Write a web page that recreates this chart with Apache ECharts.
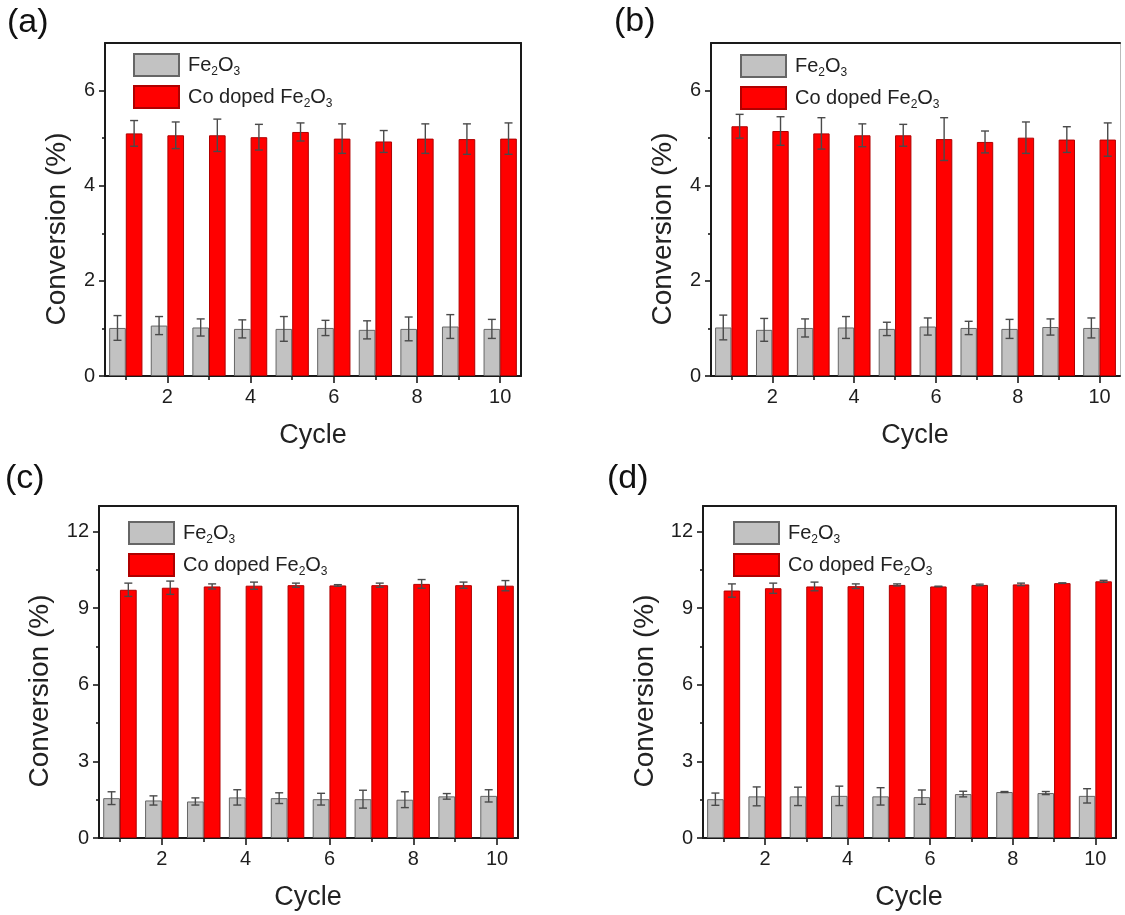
<!DOCTYPE html>
<html>
<head>
<meta charset="utf-8">
<script src="https://cdn.jsdelivr.net/npm/echarts@6/dist/echarts.min.js"></script>
<style>
html,body{margin:0;padding:0;background:#fff;}
#main{width:1125px;height:915px;}
</style>
</head>
<body>
<div id="main"></div>
<script>
// ---- data ----
const cycles = ['1','2','3','4','5','6','7','8','9','10'];
const seriesNames = ['Fe2O3', 'Co doped Fe2O3'];
const panelLabels = ['(a)', '(b)', '(c)', '(d)'];

// panel (a)
const feA    = [1.01, 1.06, 1.02, 0.99, 0.99, 1.01, 0.97, 0.99, 1.04, 0.99];
const feAErr = [0.26, 0.19, 0.18, 0.19, 0.26, 0.16, 0.19, 0.25, 0.25, 0.20];
const coA    = [5.10, 5.06, 5.06, 5.02, 5.13, 4.99, 4.93, 4.99, 4.98, 4.99];
const coAErr = [0.27, 0.28, 0.34, 0.27, 0.19, 0.31, 0.23, 0.31, 0.32, 0.33];
// panel (b)
const feB    = [1.02, 0.97, 1.01, 1.02, 0.99, 1.04, 1.01, 0.99, 1.03, 1.01];
const feBErr = [0.26, 0.24, 0.19, 0.23, 0.14, 0.18, 0.14, 0.20, 0.17, 0.21];
const coB    = [5.25, 5.15, 5.10, 5.06, 5.06, 4.98, 4.92, 5.01, 4.97, 4.97];
const coBErr = [0.25, 0.30, 0.33, 0.24, 0.23, 0.45, 0.23, 0.33, 0.27, 0.35];
// panel (c)
const feC    = [1.56, 1.47, 1.43, 1.59, 1.56, 1.52, 1.52, 1.50, 1.63, 1.65];
const feCErr = [0.25, 0.18, 0.14, 0.30, 0.21, 0.23, 0.35, 0.31, 0.11, 0.24];
const coC    = [9.72, 9.80, 9.85, 9.88, 9.90, 9.89, 9.90, 9.95, 9.90, 9.88];
const coCErr = [0.26, 0.26, 0.10, 0.14, 0.08, 0.03, 0.08, 0.17, 0.12, 0.20];
// panel (d)
const feD    = [1.52, 1.63, 1.63, 1.65, 1.63, 1.60, 1.72, 1.80, 1.76, 1.65];
const feDErr = [0.24, 0.37, 0.36, 0.38, 0.34, 0.28, 0.11, 0.02, 0.06, 0.28];
const coD    = [9.69, 9.78, 9.85, 9.86, 9.91, 9.85, 9.91, 9.93, 9.98, 10.05];
const coDErr = [0.26, 0.20, 0.17, 0.09, 0.04, 0.01, 0.03, 0.05, 0.01, 0.04];

// y-axis ticks
const yMaxAB = 7,  yMajorAB = [0, 2, 4, 6],        yMinorAB = [1, 3, 5];
const yMaxCD = 13, yMajorCD = [0, 3, 6, 9, 12],    yMinorCD = [1.5, 4.5, 7.5, 10.5];

// ---- layout / style ----
const FONT = "'Liberation Sans', Arial, sans-serif";
const AX = '#1a1a1a';
const panels = [
  {fe: feA, feE: feAErr, co: coA, coE: coAErr, max: yMaxAB, maj: yMajorAB, min: yMinorAB,
   grid: {left: 105, right: 1125 - 521, top: 43, bottom: 915 - 376}, legend: {left: 128, top: 47},
   rightColor: AX, label: [7, 6], ytitle: [57, 229], xtitle: [313, 436]},
  {fe: feB, feE: feBErr, co: coB, coE: coBErr, max: yMaxAB, maj: yMajorAB, min: yMinorAB,
   grid: {left: 711, right: 1125 - 1120, top: 43, bottom: 915 - 376}, legend: {left: 735, top: 48},
   rightColor: '#bbbbbb', label: [614, 5], ytitle: [663, 229], xtitle: [915, 436]},
  {fe: feC, feE: feCErr, co: coC, coE: coCErr, max: yMaxCD, maj: yMajorCD, min: yMinorCD,
   grid: {left: 99, right: 1125 - 518, top: 506, bottom: 915 - 838}, legend: {left: 123, top: 515},
   rightColor: AX, label: [5, 462], ytitle: [40, 691], xtitle: [308, 898]},
  {fe: feD, feE: feDErr, co: coD, coE: coDErr, max: yMaxCD, maj: yMajorCD, min: yMinorCD,
   grid: {left: 703, right: 1125 - 1116, top: 506, bottom: 915 - 838}, legend: {left: 728, top: 515},
   rightColor: AX, label: [607, 462], ytitle: [645, 691], xtitle: [909, 898]}
];

const grids = [], xAxes = [], yAxes = [], series = [], legends = [], graphics = [];

function errRender(side) {
  return function (params, api) {
    const x = api.value(0), y = api.value(1), e = api.value(2);
    const band = api.size([1, 0])[0];
    const top = api.coord([x, y + e]);
    const bot = api.coord([x, y - e]);
    const cx = top[0] + side * band * 0.2;
    const cap = 4;
    const st = {stroke: '#4a4a4a', lineWidth: 1.4};
    return {type: 'group', children: [
      {type: 'line', shape: {x1: cx, y1: top[1], x2: cx, y2: bot[1]}, style: st},
      {type: 'line', shape: {x1: cx - cap, y1: top[1], x2: cx + cap, y2: top[1]}, style: st},
      {type: 'line', shape: {x1: cx - cap, y1: bot[1], x2: cx + cap, y2: bot[1]}, style: st}
    ]};
  };
}

panels.forEach((p, i) => {
  grids.push(Object.assign({containLabel: false}, p.grid));
  const xi = xAxes.length, yi = yAxes.length;
  // main x axis
  xAxes.push({gridIndex: i, type: 'category', data: cycles, position: 'bottom',
    axisLine: {show: true, onZero: false, lineStyle: {color: AX, width: 2}},
    axisTick: {show: true, alignWithLabel: true, interval: (k) => k % 2 === 1, length: 7, lineStyle: {color: AX, width: 1.6}},
    axisLabel: {interval: (k) => k % 2 === 1, fontSize: 20, color: '#1e1e1e', margin: 11, fontFamily: FONT},
    splitLine: {show: false}});
  // minor ticks x
  xAxes.push({gridIndex: i, type: 'category', data: cycles, position: 'bottom',
    axisLine: {show: false},
    axisTick: {show: true, alignWithLabel: true, interval: (k) => k % 2 === 0, length: 4, lineStyle: {color: AX, width: 1.6}},
    axisLabel: {show: false}, splitLine: {show: false}});
  // top frame
  xAxes.push({gridIndex: i, type: 'category', data: cycles, position: 'top',
    axisLine: {show: true, onZero: false, lineStyle: {color: AX, width: 2}},
    axisTick: {show: false}, axisLabel: {show: false}, splitLine: {show: false}});
  // main y
  yAxes.push({gridIndex: i, type: 'value', min: 0, max: p.max, position: 'left',
    axisLine: {show: true, onZero: false, lineStyle: {color: AX, width: 2}},
    axisTick: {show: true, customValues: p.maj, length: 6, lineStyle: {color: AX, width: 1.6}},
    axisLabel: {customValues: p.maj, fontSize: 20, color: '#1e1e1e', margin: 10, fontFamily: FONT},
    splitLine: {show: false}});
  // minor y
  yAxes.push({gridIndex: i, type: 'value', min: 0, max: p.max, position: 'left',
    axisLine: {show: false},
    axisTick: {show: true, customValues: p.min, length: 3, lineStyle: {color: AX, width: 1.6}},
    axisLabel: {show: false}, splitLine: {show: false}});
  // right frame
  yAxes.push({gridIndex: i, type: 'value', min: 0, max: p.max, position: 'right',
    axisLine: {show: true, onZero: false, lineStyle: {color: p.rightColor, width: p.rightColor === AX ? 2 : 1}},
    axisTick: {show: false}, axisLabel: {show: false}, splitLine: {show: false}});

  series.push({name: seriesNames[0], type: 'bar', xAxisIndex: xi, yAxisIndex: yi,
    data: p.fe, barWidth: '40%', barGap: '0%',
    itemStyle: {color: '#c2c2c2', borderColor: '#666', borderWidth: 1}, z: 2});
  series.push({name: seriesNames[1], type: 'bar', xAxisIndex: xi, yAxisIndex: yi,
    data: p.co, barWidth: '40%', barGap: '0%',
    itemStyle: {color: '#ff0000', borderColor: '#b00000', borderWidth: 1}, z: 2});
  series.push({type: 'custom', xAxisIndex: xi, yAxisIndex: yi, z: 5, silent: true,
    renderItem: errRender(-1), encode: {x: 0, y: 1},
    data: p.fe.map((v, k) => [k, v, p.feE[k]])});
  series.push({type: 'custom', xAxisIndex: xi, yAxisIndex: yi, z: 5, silent: true,
    renderItem: errRender(1), encode: {x: 0, y: 1},
    data: p.co.map((v, k) => [k, v, p.coE[k]])});

  legends.push({data: seriesNames, orient: 'vertical', left: p.legend.left, top: p.legend.top,
    icon: 'rect', itemWidth: 45, itemHeight: 22, itemGap: 6, selectedMode: false,
    formatter: (n) => n === 'Fe2O3' ? '{m|Fe}{s|2}{m|O}{s|3}' : '{m|Co doped Fe}{s|2}{m|O}{s|3}',
    textStyle: {padding: [0, 0, 0, 4], rich: {
      m: {fontSize: 20, fontFamily: FONT, color: '#222', lineHeight: 26, height: 26, verticalAlign: 'middle'},
      s: {fontSize: 12, fontFamily: FONT, color: '#222', lineHeight: 12, verticalAlign: 'bottom'}
    }}});

  graphics.push({type: 'text', x: p.label[0], y: p.label[1],
    style: {text: panelLabels[i], fontSize: 34, fontFamily: FONT, fill: '#111', align: 'left', verticalAlign: 'top'}});
  graphics.push({type: 'text', x: p.ytitle[0], y: p.ytitle[1], rotation: Math.PI / 2,
    style: {text: 'Conversion (%)', fontSize: 28, fontFamily: FONT, fill: '#222', align: 'center', verticalAlign: 'middle'}});
  graphics.push({type: 'text', x: p.xtitle[0], y: p.xtitle[1],
    style: {text: 'Cycle', fontSize: 27, fontFamily: FONT, fill: '#222', align: 'center', verticalAlign: 'middle'}});
});

const chart = echarts.init(document.getElementById('main'), null, {renderer: 'canvas'});
chart.setOption({
  backgroundColor: '#fff',
  animation: false,
  grid: grids,
  xAxis: xAxes,
  yAxis: yAxes,
  legend: legends,
  series: series,
  graphic: graphics
});
</script>
</body>
</html>
